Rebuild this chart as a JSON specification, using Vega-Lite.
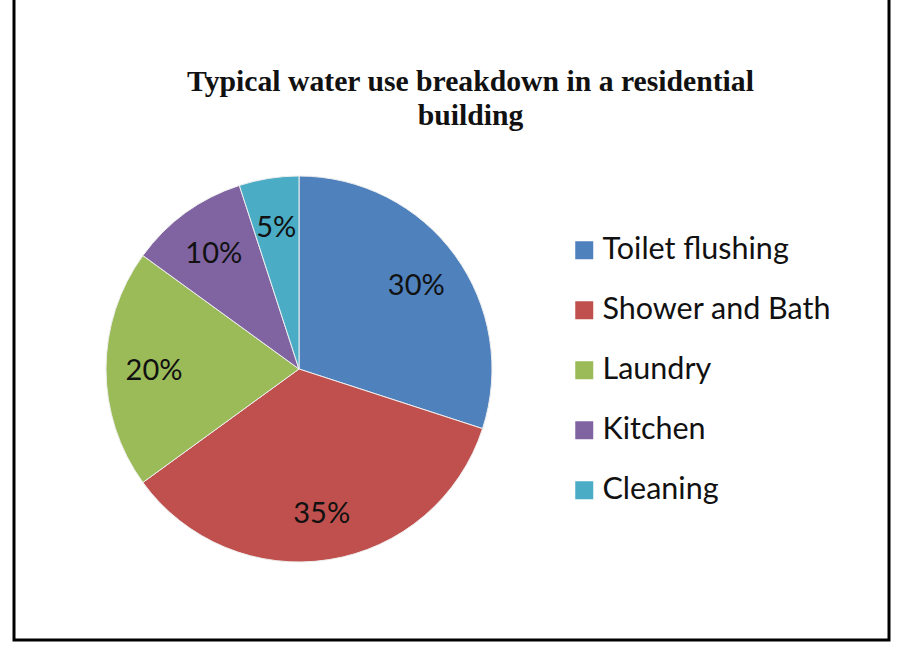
{
  "$schema": "https://vega.github.io/schema/vega-lite/v6.json",
  "autosize": {"type": "none"},
  "width": 875,
  "height": 642,
  "padding": {"left": 14, "top": -2, "right": 12, "bottom": 9},
  "background": "white",
  "view": {"stroke": "#000000", "strokeWidth": 3, "fill": "white"},
  "config": {
    "font": "Lato"
  },
  "title": {
    "text": ["Typical water use breakdown in a residential", "building"],
    "font": "Liberation Serif",
    "fontSize": 29.7,
    "fontWeight": "bold",
    "color": "#111111",
    "anchor": "middle",
    "frame": "group",
    "orient": "top",
    "offset": -134,
    "dx": 19,
    "lineHeight": 34
  },
  "data": {
    "values": [
      {"category": "Toilet flushing", "share": 30, "order": 1, "label": "30%"},
      {"category": "Shower and Bath", "share": 35, "order": 2, "label": "35%"},
      {"category": "Laundry", "share": 20, "order": 3, "label": "20%"},
      {"category": "Kitchen", "share": 10, "order": 4, "label": "10%"},
      {"category": "Cleaning", "share": 5, "order": 5, "label": "5%"}
    ]
  },
  "encoding": {
    "theta": {"field": "share", "type": "quantitative", "stack": true},
    "order": {"field": "order", "type": "quantitative"},
    "color": {
      "field": "category",
      "type": "nominal",
      "sort": ["Toilet flushing", "Shower and Bath", "Laundry", "Kitchen", "Cleaning"],
      "scale": {
        "domain": ["Toilet flushing", "Shower and Bath", "Laundry", "Kitchen", "Cleaning"],
        "range": ["#4F81BD", "#C0504D", "#9BBB59", "#8064A2", "#4BACC6"]
      },
      "legend": {
        "title": null,
        "orient": "none",
        "legendX": 555,
        "legendY": 237,
        "symbolType": "square",
        "symbolSize": 324,
        "symbolStrokeWidth": 0,
        "labelFontSize": 30.5,
        "labelFont": "Lato",
        "labelColor": "#111111",
        "labelOffset": 3,
        "labelLimit": 400,
        "rowPadding": 29
      }
    }
  },
  "layer": [
    {
      "mark": {"type": "arc", "outerRadius": 193, "x": 285, "y": 371, "stroke": "#eeeeee", "strokeWidth": 1}
    },
    {
      "mark": {"type": "text", "radius": 145, "x": 285, "y": 373, "fontSize": 29, "font": "Lato", "fill": "#111111"},
      "encoding": {
        "text": {"field": "label", "type": "nominal"},
        "color": {"value": "#111111"}
      }
    }
  ]
}
